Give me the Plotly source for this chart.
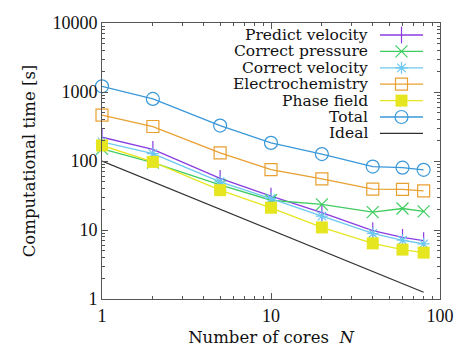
import plotly.graph_objects as go

# ---- data ----
cores = [1, 2, 5, 10, 20, 40, 60, 80]
predict_velocity = [221, 147, 56, 31, 17.8, 9.8, 7.8, 7.0]
correct_pressure = [150, 95, 45, 27, 23.5, 18.2, 20.5, 18.6]
correct_velocity = [189, 128, 50, 28.6, 15.9, 8.9, 7.1, 6.3]
electrochemistry = [461, 316, 131, 75, 55, 39, 38.7, 37]
phase_field = [168, 97, 37.8, 21, 10.9, 6.4, 5.2, 4.7]
total = [1208, 794, 326, 183, 126, 83, 80, 74.5]
ideal = [100 / n for n in cores]

series_names = ["Predict velocity", "Correct pressure", "Correct velocity",
                "Electrochemistry", "Phase field", "Total", "Ideal"]
series_values = [predict_velocity, correct_pressure, correct_velocity,
                 electrochemistry, phase_field, total, ideal]

x_tick_vals = [1, 10, 100]
y_tick_vals = [1, 10, 100, 1000, 10000]

# ---- styles ----
colors = ["#8a3ce0", "#40cc60", "#6cc8f0", "#e8a030", "#e6e620", "#3a98d8", "#303030"]
symbols = ["line-ns-open", "x-thin-open", "asterisk-open", "square-open", "square", "circle-open", None]
sizes = [12, 12, 10, 12, 12, 13, 0]

TICK_FONT = "Liberation Serif"
TEXT_FONT = "DejaVu Serif"
# page body has an 8px margin, so the figure is sized/offset to compensate
W, H = 466, 353
ML, MR, MT, MB = 94, 34, 15, 62
OFF = 8

fig = go.Figure()

for name, vals, c, sym, sz in zip(series_names, series_values, colors, symbols, sizes):
    if sym is None:
        fig.add_trace(go.Scatter(x=cores, y=vals, mode="lines", name=name,
                                 line=dict(color=c, width=1.2), showlegend=False))
    else:
        filled = sym == "square"
        fig.add_trace(go.Scatter(
            x=cores, y=vals, mode="lines+markers", name=name, cliponaxis=False,
            line=dict(color=c, width=1.3),
            marker=dict(symbol=sym, size=sz, color=c,
                        line=dict(color=c, width=1.2 if not filled else 0)),
            showlegend=False))

# ---- custom legend (sample to the right of the text), in page pixels ----
row0, step = 35, 16.4
for i, (name, c, sym, sz) in enumerate(zip(series_names, colors, symbols, sizes)):
    ry = row0 + i * step
    fig.add_trace(go.Scatter(x=[380, 423], y=[ry, ry], mode="lines", xaxis="x2", yaxis="y2",
                             line=dict(color=c, width=1.3), showlegend=False, hoverinfo="skip"))
    if sym is not None:
        filled = sym == "square"
        fig.add_trace(go.Scatter(x=[401.5], y=[ry], mode="markers", xaxis="x2", yaxis="y2",
                                 marker=dict(symbol=sym, size=sz, color=c,
                                             line=dict(color=c, width=1.2 if not filled else 0)),
                                 showlegend=False, hoverinfo="skip", cliponaxis=False))
    fig.add_annotation(x=370, y=ry, xref="x2", yref="y2", text=name, showarrow=False,
                       xanchor="right", yanchor="middle",
                       font=dict(family=TEXT_FONT, size=15.5, color="#111"))

minor_vals = [k * 10 ** d for d in range(0, 4) for k in range(2, 10)]

axis_common = dict(showline=True, linecolor="#555", linewidth=1, mirror="ticks",
                   ticks="inside", ticklen=6, tickcolor="#555", showgrid=False,
                   zeroline=False, automargin=False,
                   tickfont=dict(family=TICK_FONT, size=18, color="#111"))

fig.update_layout(
    width=W, height=H,
    margin=dict(l=ML, r=MR, t=MT, b=MB),
    paper_bgcolor="white", plot_bgcolor="white",
    xaxis=dict(type="log", range=[0, 2], tickvals=x_tick_vals,
               ticktext=[str(v) for v in x_tick_vals],
               minor=dict(ticks="inside", ticklen=3, tickcolor="#555", tickvals=minor_vals[:16]),
               title=dict(text="Number of cores  <i>N</i>", standoff=6,
                          font=dict(family=TEXT_FONT, size=16.5, color="#111")),
               **axis_common),
    yaxis=dict(type="log", range=[0, 4], tickvals=y_tick_vals,
               ticktext=[str(v) for v in y_tick_vals],
               minor=dict(ticks="inside", ticklen=3, tickcolor="#555", tickvals=minor_vals),
               title=dict(text="Computational time [s]", standoff=12,
                          font=dict(family=TEXT_FONT, size=16.5, color="#111")),
               **axis_common),
    xaxis2=dict(overlaying="x", anchor="y2", range=[ML + OFF, W - MR + OFF], visible=False,
                fixedrange=True, automargin=False),
    yaxis2=dict(overlaying="y", anchor="x2", range=[H - MB + OFF, MT + OFF], visible=False,
                fixedrange=True, automargin=False),
    showlegend=False,
)

fig.write_html("out.html")
